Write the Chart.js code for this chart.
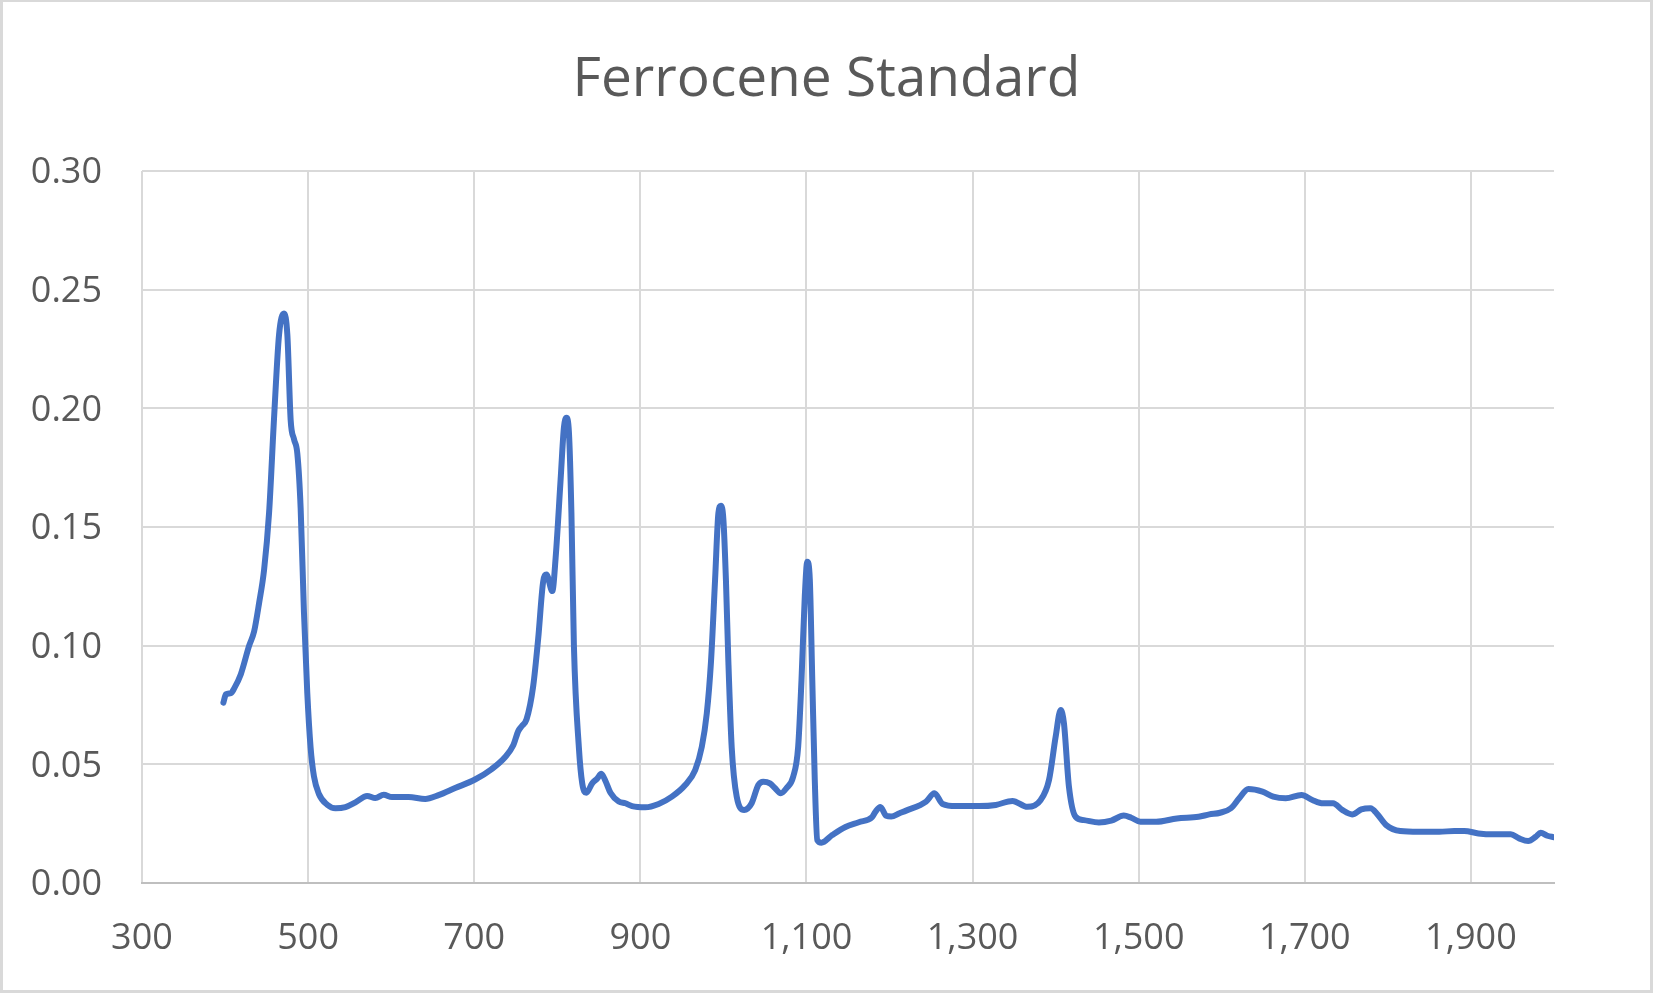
<!DOCTYPE html>
<html>
<head>
<meta charset="utf-8">
<script src="https://cdn.jsdelivr.net/npm/chart.js@4/dist/chart.umd.min.js"></script>
<style>
  html, body { margin: 0; padding: 0; background: #fff; }
  #wrap { position: relative; width: 1653px; height: 993px; }
  #frame { position: absolute; left: 0; top: 0; width: 1653px; height: 993px; box-sizing: border-box;
           border-style: solid; border-color: #D9D9D9; border-width: 2px 3px 3px 3px; pointer-events: none; }
</style>
</head>
<body>
<div id="wrap">
  <canvas id="c" width="1653" height="993"></canvas>
  <div id="frame"></div>
</div>
<script>
const chartTitle = "Ferrocene Standard";
const wavenumbers = [
  398, 401, 407, 411, 419, 429, 435, 441, 447, 453, 459, 465, 471, 475, 479, 483, 487, 491, 495, 499,
  503, 507, 513, 523, 533, 545, 557, 571, 581, 591, 601, 621, 641, 657, 677, 701, 721, 737, 747, 753,
  757, 763, 771, 777, 783, 787, 794, 798, 804, 808, 811, 814, 817, 820, 826, 830, 835, 842, 848, 853,
  858, 864, 874, 882, 890, 906, 922, 938, 954, 966, 974, 980, 985, 990, 994, 997, 1000, 1003, 1006, 1010,
  1016, 1025, 1034, 1042, 1048, 1056, 1062, 1069, 1076, 1084, 1090, 1094, 1098, 1101, 1104, 1107, 1110, 1113, 1118, 1131,
  1147, 1163, 1179, 1183, 1189, 1196, 1202, 1212, 1220, 1244, 1254, 1264, 1280, 1308, 1328, 1348, 1366, 1382, 1392, 1400,
  1406, 1410, 1416, 1424, 1434, 1452, 1467, 1482, 1491, 1502, 1521, 1546, 1572, 1585, 1598, 1611, 1621, 1632, 1649, 1662,
  1677, 1696, 1709, 1722, 1734, 1745, 1757, 1768, 1779, 1788, 1798, 1815, 1837, 1862, 1880, 1892, 1909, 1926, 1948, 1958,
  1969, 1978, 1984, 1992, 2000
];
const absorbance = [
  0.076, 0.0795, 0.080, 0.082, 0.088, 0.100, 0.106, 0.118, 0.132, 0.156, 0.196, 0.231, 0.240, 0.231, 0.195, 0.187, 0.181, 0.158, 0.114, 0.080,
  0.057, 0.045, 0.0375, 0.033, 0.0315, 0.032, 0.034, 0.0367, 0.0358, 0.0372, 0.0362, 0.0362, 0.0354, 0.037, 0.040, 0.0436, 0.048, 0.053, 0.058, 0.064,
  0.066, 0.069, 0.083, 0.103, 0.127, 0.130, 0.123, 0.137, 0.170, 0.192, 0.196, 0.190, 0.156, 0.100, 0.057, 0.042, 0.038, 0.042, 0.044, 0.046,
  0.043, 0.038, 0.0343, 0.0336, 0.0324, 0.0319, 0.0333, 0.0364, 0.0413, 0.0476, 0.0574, 0.0715, 0.093, 0.128, 0.156, 0.159, 0.153, 0.128, 0.093, 0.057,
  0.0364, 0.0308, 0.0336, 0.0413, 0.0427, 0.042, 0.040, 0.0378, 0.040, 0.0448, 0.0574, 0.0855, 0.121, 0.1354, 0.128, 0.0855, 0.0434, 0.0181, 0.0170, 0.0202,
  0.0236, 0.0256, 0.0278, 0.030, 0.0320, 0.0283, 0.0280, 0.0294, 0.0305, 0.0343, 0.0378, 0.0333, 0.0324, 0.0324, 0.0329, 0.0346, 0.0321, 0.035, 0.0434, 0.0616,
  0.0729, 0.0673, 0.0406, 0.0279, 0.0265, 0.0255, 0.0263, 0.0284, 0.0275, 0.0258, 0.0258, 0.0272, 0.0279, 0.0289, 0.0296, 0.0315, 0.0357, 0.0396, 0.0385, 0.0364,
  0.0357, 0.0371, 0.035, 0.0336, 0.0336, 0.0308, 0.0289, 0.031, 0.0315, 0.0287, 0.0244, 0.0219, 0.0216, 0.0216, 0.0219, 0.0219, 0.0209, 0.0205, 0.0205, 0.0188,
  0.0177, 0.0195, 0.0212, 0.0199, 0.0193
];
const xTickValues = [300, 500, 700, 900, 1100, 1300, 1500, 1700, 1900];
const yTickValues = [0, 0.05, 0.10, 0.15, 0.20, 0.25, 0.30];

const points = wavenumbers.map((w, i) => ({ x: w, y: absorbance[i] }));
const fontFamily = "'Open Sans', 'Liberation Sans', sans-serif";

new Chart(document.getElementById('c'), {
  type: 'line',
  data: {
    datasets: [{
      data: points,
      borderColor: '#4472C4',
      borderWidth: 6,
      pointRadius: 0,
      fill: false,
      cubicInterpolationMode: 'monotone',
      borderCapStyle: 'round',
      borderJoinStyle: 'round'
    }]
  },
  options: {
    responsive: false,
    devicePixelRatio: 1,
    animation: false,
    layout: { padding: { left: 99, right: 99, top: 0, bottom: 0 } },
    plugins: {
      legend: { display: false },
      tooltip: { enabled: false },
      title: {
        display: true,
        text: chartTitle,
        color: '#595959',
        font: { family: fontFamily, size: 55, weight: 'normal', lineHeight: 1.2 },
        padding: { top: 47, bottom: 58 }
      }
    },
    scales: {
      x: {
        type: 'linear',
        min: 300,
        max: 2000,
        afterBuildTicks: (s) => { s.ticks = xTickValues.map(v => ({ value: v })); },
        afterFit: (s) => { s.height = 110; },
        ticks: {
          color: '#595959',
          font: { family: fontFamily, size: 36 },
          padding: 34,
          maxRotation: 0,
          autoSkip: false,
          callback: (v) => Number(v).toLocaleString('en-US')
        },
        grid: { color: '#D9D9D9', lineWidth: 2, drawTicks: false },
        border: { color: '#BFBFBF', width: 2 }
      },
      y: {
        min: 0,
        max: 0.30,
        afterBuildTicks: (s) => { s.ticks = yTickValues.map(v => ({ value: v })); },
        afterFit: (s) => { s.width = 43; s._computeLabelArea = () => null; },
        ticks: {
          color: '#595959',
          font: { family: fontFamily, size: 36 },
          padding: 40,
          labelOffset: 2,
          callback: (v) => Number(v).toFixed(2)
        },
        grid: { color: '#D9D9D9', lineWidth: 2, drawTicks: false },
        border: { display: false }
      }
    }
  }
});
</script>
</body>
</html>
